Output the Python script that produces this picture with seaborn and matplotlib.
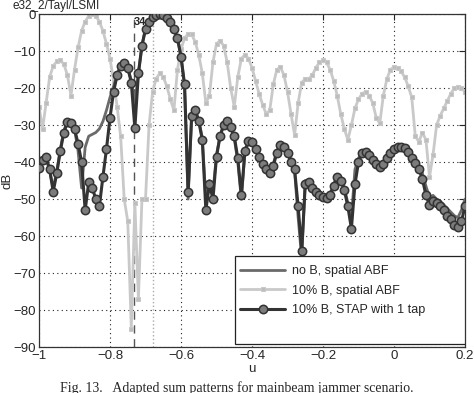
import numpy as np
import pandas as pd
import seaborn as sns
import matplotlib.pyplot as plt
from matplotlib.patches import Rectangle

# sample grid in u (sine space), 0.01 steps from -1 to 0.2
u = np.round(np.arange(-1.0, 0.2001, 0.01), 2)

# 10% B, STAP with 1 tap (dark, circles)
stap_db = [
    -41.7, -39.5, -38.6, -42.0, -48.0, -43.0, -37.0, -32.0, -29.2, -29.5,
    -31.0, -35.0, -40.0, -53.0, -45.5, -47.0, -50.0, -52.0, -44.0, -36.5,
    -28.0, -21.0, -16.5, -14.0, -13.3, -14.5, -18.5, -30.8, -16.0, -8.5,
    -4.0, -2.0, -0.8, -0.1, 0.0, -0.3, -1.0, -2.2, -4.0, -6.5,
    -11.5, -19.0, -48.0, -27.5, -26.0, -29.0, -34.0, -53.0, -46.0, -50.0,
    -38.5, -33.0, -30.0, -29.0, -30.5, -33.0, -39.0, -49.0, -37.0, -34.3,
    -34.5, -36.5, -38.5, -40.5, -42.0, -43.0, -41.0, -37.5, -35.5, -35.8,
    -37.5, -40.0, -42.0, -52.0, -64.0, -46.0, -45.5, -47.0, -48.0, -49.0,
    -49.5, -49.8, -49.0, -46.5, -44.0, -45.0, -47.5, -52.0, -58.0, -46.0,
    -40.0, -37.5, -37.3, -38.2, -39.5, -40.5, -41.3, -40.5, -39.0, -37.5,
    -36.5, -36.0, -35.9, -36.2, -37.2, -38.8, -40.3, -42.0, -44.5, -49.0,
    -51.5, -50.5, -51.0, -52.0, -53.0, -54.5, -55.5, -57.0, -57.5, -56.0,
    -52.0,
]

# no B, spatial ABF (medium grey line)
nob_db = [
    -41.5, -39.3, -38.8, -42.5, -47.0, -42.5, -36.5, -31.5, -29.0, -29.3,
    -31.0, -37.0, -47.0, -36.0, -33.0, -32.5, -32.0, -31.0, -29.0, -26.0,
    -22.5, -19.5, -16.5, -14.0, -13.2, -14.3, -18.0, -24.0, -16.0, -8.5,
    -4.0, -2.0, -0.8, -0.1, 0.0, -0.3, -1.0, -2.2, -4.0, -6.5,
    -11.5, -19.5, -50.0, -28.0, -26.0, -28.5, -33.5, -50.0, -45.0, -48.0,
    -38.0, -33.0, -30.0, -29.0, -30.5, -33.5, -40.0, -50.0, -37.5, -34.5,
    -34.5, -36.0, -38.0, -40.0, -41.5, -42.5, -40.5, -37.0, -35.0, -35.5,
    -37.0, -39.5, -42.5, -55.0, -66.0, -45.0, -45.0, -46.5, -47.5, -48.5,
    -49.0, -49.3, -48.5, -46.0, -43.5, -44.5, -47.0, -51.0, -55.0, -42.0,
    -39.0, -37.0, -36.8, -37.8, -39.0, -40.0, -40.8, -40.0, -38.6, -37.0,
    -36.0, -35.5, -35.4, -35.7, -36.7, -38.2, -39.6, -41.0, -43.0, -46.5,
    -49.5, -49.0, -50.0, -50.5, -51.5, -52.5, -53.5, -54.5, -55.0, -53.0,
    -50.0,
]

# 10% B, spatial ABF (light grey, squares)
abf_db = [
    -25.0, -31.0, -24.0, -17.0, -14.0, -12.8, -12.5, -13.5, -16.5, -22.0,
    -15.0, -9.0, -4.5, -2.0, -0.5, 0.0, -0.5, -2.0, -4.5, -8.0,
    -12.0, -18.0, -25.0, -33.0, -50.0, -56.0, -85.0, -51.0, -77.0, -50.0,
    -50.0, -30.0, -21.0, -17.5, -16.0, -17.0, -19.5, -23.0, -26.0, -15.0,
    -9.5, -6.5, -5.3, -5.5, -7.5, -11.0, -16.0, -24.0, -22.0, -13.0,
    -8.0, -7.2, -8.5, -13.0, -20.0, -25.0, -17.0, -12.0, -11.0, -12.0,
    -14.5, -18.0, -21.5, -24.5, -27.0, -26.0, -19.0, -15.0, -14.3, -16.5,
    -21.0, -27.0, -32.7, -24.0, -18.5, -17.5, -17.5, -16.5, -14.5, -13.0,
    -12.5, -13.0, -15.0, -18.0, -22.0, -27.0, -31.0, -34.0, -30.0, -25.5,
    -23.0, -21.5, -21.0, -22.0, -24.0, -28.0, -29.5, -22.0, -17.5, -15.0,
    -14.3, -14.5, -15.5, -17.0, -19.5, -22.5, -33.0, -34.5, -32.0, -34.0,
    -44.0, -38.0, -30.0, -27.5, -25.5, -23.5, -21.5, -20.0, -19.6, -20.0,
    -21.0,
]

jammer_u = -0.732   # dashed marker line with label "34"
look_u = -0.679     # light dotted line

df = pd.DataFrame({'u': u, 'nob': nob_db, 'abf': abf_db, 'stap': stap_db})

sns.set_theme(style='white')
plt.rcParams['font.family'] = ['Liberation Sans', 'DejaVu Sans']
plt.rcParams['xtick.direction'] = 'in'
plt.rcParams['ytick.direction'] = 'in'

fig = plt.figure(figsize=(4.74, 3.93), dpi=100)
ax = fig.add_axes([0.0823, 0.117, 0.8987, 0.847])

sns.lineplot(data=df, x='u', y='nob', ax=ax, color='#6a6a6a', lw=2.0,
             label='no B, spatial ABF', zorder=3)
sns.lineplot(data=df, x='u', y='abf', ax=ax, color='#c9c9c9', lw=2.0,
             marker='s', markersize=3.5, markerfacecolor='#bdbdbd',
             markeredgecolor='#c9c9c9', label='10% B, spatial ABF', zorder=2)
sns.lineplot(data=df, x='u', y='stap', ax=ax, color='#333333', lw=2.2,
             marker='o', markersize=6, markerfacecolor='#7c7c7c',
             markeredgecolor='#333333', markeredgewidth=1.1,
             label='10% B, STAP with 1 tap', zorder=4)

ax.axvline(jammer_u, color='#555555', lw=1.0, ls=(0, (6, 4)), zorder=1)
ax.axvline(look_u, color='#aaaaaa', lw=1.0, ls=':', zorder=1)
ax.text(jammer_u, -2.0, '34', fontsize=8, fontweight='bold', ha='left', va='center')

ax.set_xlim(-1, 0.2)
ax.set_ylim(-90, 0)
ax.set_xticks([-1, -0.8, -0.6, -0.4, -0.2, 0, 0.2])
ax.set_xticklabels(['\u22121', '\u22120.8', '\u22120.6', '\u22120.4', '\u22120.2', '0', '0.2'])
ax.set_yticks(np.arange(-90, 1, 10))
ax.set_yticklabels([('\u2212%d' % -v) if v < 0 else '0' for v in np.arange(-90, 1, 10)])
ax.tick_params(labelsize=9.5, length=4, width=0.8, top=True, right=True, pad=2)
ax.grid(True, color='#222222', ls=(0, (1, 3)), lw=0.8)
for s in ax.spines.values():
    s.set_color('#333333')
    s.set_linewidth(0.9)

ax.set_xlabel('u', fontsize=9.5, labelpad=1)
ax.set_ylabel('dB', fontsize=9.5, labelpad=0)
ax.set_title('e32_2/Tayl/LSMI', fontsize=8.5, loc='left', x=-0.062, pad=4)

# legend: MATLAB style box with empty space at bottom
ax.add_patch(Rectangle((-0.448, -89.2), 0.648, 23.8, fill=True, facecolor='white',
                       edgecolor='#222222', lw=0.9, zorder=5))
leg = ax.legend(loc='upper left', bbox_to_anchor=(0.452, 0.272), frameon=False,
                fontsize=9, handlelength=3.6, handletextpad=0.5,
                labelspacing=0.6, borderpad=0.2)
leg.set_zorder(6)

fig.text(0.5, 0.012, 'Fig. 13.   Adapted sum patterns for mainbeam jammer scenario.',
         family=['Liberation Serif', 'DejaVu Serif'], fontsize=10, ha='center', va='center')

fig.savefig('out.png', dpi=100)
